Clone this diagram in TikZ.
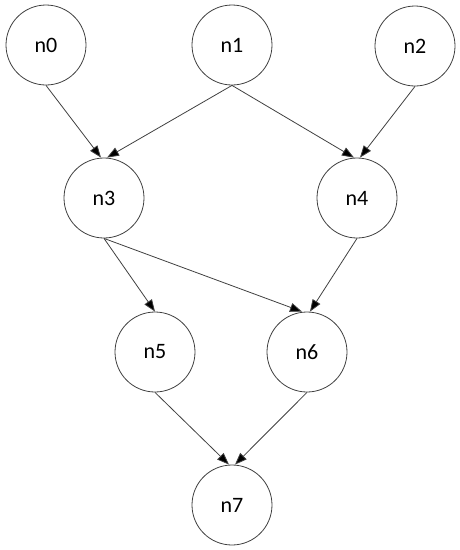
\documentclass[tikz,border=0pt]{standalone}
\usepackage{fontspec}
\setmainfont{Carlito}
\usetikzlibrary{arrows.meta}
\begin{document}
\begin{tikzpicture}[x=1pt,y=-1pt,
  nd/.style={circle,draw=black!75,line width=0.8pt,minimum size=80pt,inner sep=0pt,font=\fontsize{22}{26}\selectfont},
  ed/.style={draw=black!75,line width=0.8pt,-{Triangle[length=12pt,width=9pt,fill=black]}}]
\useasboundingbox (0,0) rectangle (460,550);
\node[nd] (n0) at (46,45) {n0};
\node[nd] (n1) at (232,45) {n1};
\node[nd] (n2) at (415,46) {n2};
\node[nd] (n3) at (104,198) {n3};
\node[nd] (n4) at (357,198) {n4};
\node[nd] (n5) at (155,352) {n5};
\node[nd] (n6) at (307,352) {n6};
\node[nd] (n7) at (232,505) {n7};
\draw[ed] (n0.south) -- ([xshift=-3pt]n3.north);
\draw[ed] (n1.south) -- ([xshift=3pt]n3.north);
\draw[ed] (n1.south) -- ([xshift=-3pt]n4.north);
\draw[ed] (n2.south) -- ([xshift=3pt]n4.north);
\draw[ed] (n3.south) -- (n5.north);
\draw[ed] (n3.south) -- ([xshift=-5pt]n6.north);
\draw[ed] (n4.south) -- ([xshift=3pt]n6.north);
\draw[ed] (n5.south) -- ([xshift=-3pt]n7.north);
\draw[ed] (n6.south) -- ([xshift=3pt]n7.north);
\end{tikzpicture}
\end{document}
